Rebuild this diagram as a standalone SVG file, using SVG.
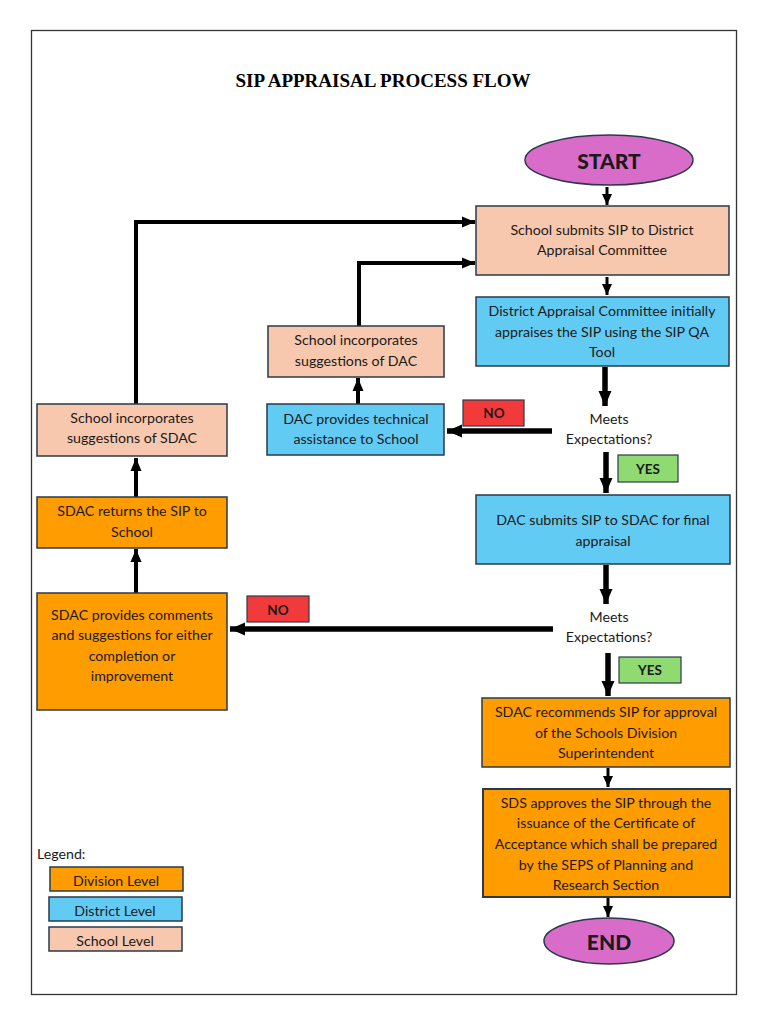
<svg xmlns="http://www.w3.org/2000/svg" width="768" height="1024" viewBox="0 0 768 1024">
<style>
.box{stroke:#2a3a4a;stroke-width:1.5}
.peach{fill:#F8C8AE}
.blue{fill:#62CBF4}
.orange{fill:#FF9C00}
.purple{fill:#DA6CC9;stroke:#2a3a4a;stroke-width:1.5}
.red{fill:#F23A3A;stroke:#2a3a4a;stroke-width:1.2}
.green{fill:#90DA72;stroke:#2a3a4a;stroke-width:1.2}
text{font-family:Lato,"Open Sans","Liberation Sans",sans-serif;font-size:14.2px;fill:#1a1a1a;text-anchor:middle}
.b{font-weight:bold;font-size:13.5px}
.big{font-weight:900;font-size:21px}
.title{font-family:"Liberation Serif","DejaVu Serif",serif;font-weight:bold;font-size:19px;fill:#000}
.thin{fill:none;stroke:#000;stroke-width:3}
.mid{fill:none;stroke:#000;stroke-width:4}
.thick{fill:none;stroke:#000;stroke-width:5.5}
</style>
<defs>
<marker id="hs" markerUnits="userSpaceOnUse" markerWidth="12" markerHeight="12" viewBox="0 0 12 12" refX="11" refY="6" orient="auto"><path d="M0,1 L11,6 L0,11 Z" fill="#000"/></marker>
<marker id="hm" markerUnits="userSpaceOnUse" markerWidth="14" markerHeight="14" viewBox="0 0 14 14" refX="13" refY="7" orient="auto"><path d="M0,1.5 L13,7 L0,12.5 Z" fill="#000"/></marker>
<marker id="hl" markerUnits="userSpaceOnUse" markerWidth="16" markerHeight="16" viewBox="0 0 16 16" refX="15" refY="8" orient="auto"><path d="M0,1.5 L15,8 L0,14.5 Z" fill="#000"/></marker>
</defs>
<rect x="31.5" y="30.5" width="705" height="964" fill="#fff" stroke="#333" stroke-width="1.3"/>
<text class="title" x="383" y="87">SIP APPRAISAL PROCESS FLOW</text>

<g id="connectors">
<line class="thin" x1="607" y1="187" x2="607" y2="205" marker-end="url(#hs)"/>
<line class="thin" x1="607" y1="277" x2="607" y2="295" marker-end="url(#hs)"/>
<line class="thick" x1="605" y1="367" x2="605" y2="406" marker-end="url(#hl)"/>
<line class="thick" x1="552" y1="431" x2="447" y2="431" marker-end="url(#hl)"/>
<line class="mid" x1="358" y1="404" x2="358" y2="378" marker-end="url(#hm)"/>
<polyline class="mid" points="359,326 359,263 475,263" marker-end="url(#hm)"/>
<polyline class="mid" points="136,404 136,222 475,222" marker-end="url(#hm)"/>
<line class="thick" x1="606" y1="452" x2="606" y2="493" marker-end="url(#hl)"/>
<line class="thick" x1="606" y1="565" x2="606" y2="604" marker-end="url(#hl)"/>
<line class="thick" x1="553" y1="629" x2="230" y2="629" marker-end="url(#hl)"/>
<line class="mid" x1="136" y1="593" x2="136" y2="549" marker-end="url(#hm)"/>
<line class="mid" x1="136" y1="497" x2="136" y2="458" marker-end="url(#hm)"/>
<line class="thick" x1="608" y1="653" x2="608" y2="696" marker-end="url(#hl)"/>
<line class="thin" x1="608" y1="768" x2="608" y2="787" marker-end="url(#hs)"/>
<line class="thin" x1="608" y1="898" x2="608" y2="917" marker-end="url(#hs)"/>
</g>

<g id="start"><ellipse class="purple" cx="609" cy="160" rx="84" ry="25"/><text class="big" x="609" y="169">START</text></g>
<g id="submit"><rect class="box peach" x="476" y="206" width="253" height="69"/><text x="602" y="235">School submits SIP to District</text><text x="602" y="255">Appraisal Committee</text></g>
<g id="initial"><rect class="box blue" x="476" y="297" width="253" height="69"/><text x="602" y="316">District Appraisal Committee initially</text><text x="602" y="337">appraises the SIP using the SIP QA</text><text x="602" y="357">Tool</text></g>
<g id="meets1"><text x="609" y="424">Meets</text><text x="609" y="444">Expectations?</text></g>
<g id="no1"><rect class="red" x="463" y="400" width="61" height="26"/><text class="b" x="494" y="418">NO</text></g>
<g id="dac-ta"><rect class="box blue" x="267" y="404" width="177" height="51"/><text x="356" y="424">DAC provides technical</text><text x="356" y="444">assistance to School</text></g>
<g id="school-dac"><rect class="box peach" x="268" y="326" width="176" height="51"/><text x="356" y="345">School incorporates</text><text x="356" y="366">suggestions of DAC</text></g>
<g id="yes1"><rect class="green" x="618" y="455" width="60" height="27"/><text class="b" x="648" y="474">YES</text></g>
<g id="dac-submit"><rect class="box blue" x="476" y="495" width="254" height="69"/><text x="603" y="525">DAC submits SIP to SDAC for final</text><text x="603" y="546">appraisal</text></g>
<g id="meets2"><text x="609" y="622">Meets</text><text x="609" y="642">Expectations?</text></g>
<g id="no2"><rect class="red" x="247" y="596" width="62" height="26"/><text class="b" x="278" y="615">NO</text></g>
<g id="sdac-comments"><rect class="box orange" x="37" y="593" width="190" height="117"/><text x="132" y="620">SDAC provides comments</text><text x="132" y="640">and suggestions for either</text><text x="132" y="661">completion or</text><text x="132" y="681">improvement</text></g>
<g id="sdac-returns"><rect class="box orange" x="37" y="497" width="190" height="51"/><text x="132" y="516">SDAC returns the SIP to</text><text x="132" y="537">School</text></g>
<g id="school-sdac"><rect class="box peach" x="37" y="404" width="190" height="52"/><text x="132" y="423">School incorporates</text><text x="132" y="443">suggestions of SDAC</text></g>
<g id="yes2"><rect class="green" x="619" y="657" width="62" height="26"/><text class="b" x="650" y="675">YES</text></g>
<g id="recommend"><rect class="box orange" x="482" y="698" width="248" height="69"/><text x="606" y="717">SDAC recommends SIP for approval</text><text x="606" y="738">of the Schools Division</text><text x="606" y="758">Superintendent</text></g>
<g id="approve"><rect class="box orange" x="483" y="789" width="247" height="108" style="stroke-width:2"/><text x="606" y="808">SDS approves the SIP through the</text><text x="606" y="828">issuance of the Certificate of</text><text x="606" y="849">Acceptance which shall be prepared</text><text x="606" y="870">by the SEPS of Planning and</text><text x="606" y="890">Research Section</text></g>
<g id="end"><ellipse class="purple" cx="609" cy="941" rx="65" ry="23"/><text class="big" x="609" y="950">END</text></g>
<g id="legend">
<text x="37" y="859" style="text-anchor:start">Legend:</text>
<rect class="box orange" x="50" y="867" width="133" height="24"/><text x="116" y="886">Division Level</text>
<rect class="box blue" x="49" y="897" width="133" height="24"/><text x="115" y="916">District Level</text>
<rect class="box peach" x="49" y="927" width="133" height="24"/><text x="115" y="946">School Level</text>
</g>
</svg>
